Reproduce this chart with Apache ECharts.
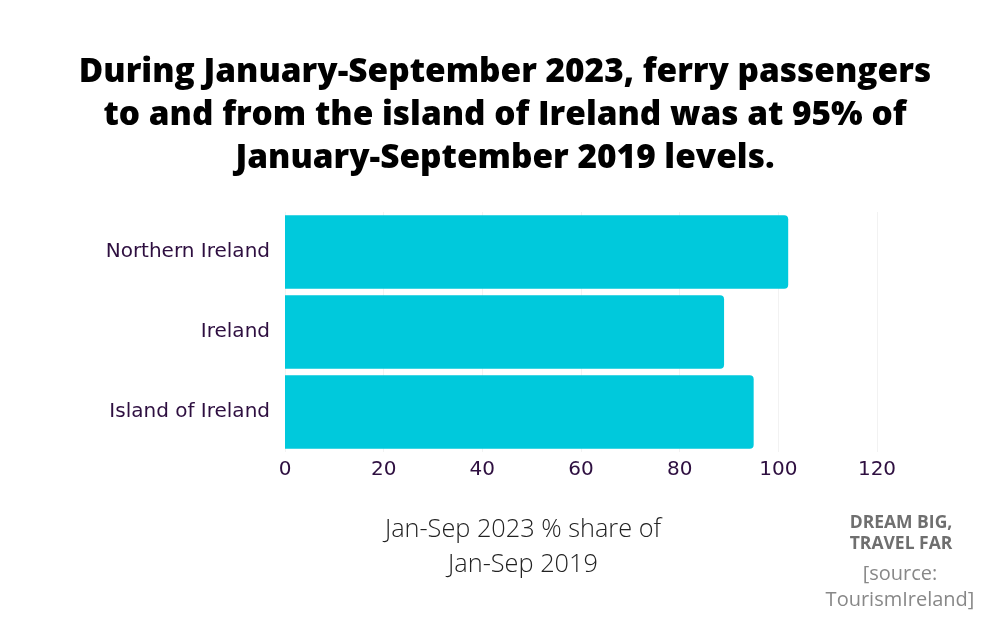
<!DOCTYPE html>
<html><head><meta charset="utf-8">
<script src="https://cdn.jsdelivr.net/npm/echarts@6/dist/echarts.min.js"></script>
<style>html,body{margin:0;padding:0;background:#fff}#c{width:1000px;height:625px}</style>
</head><body><div id="c"></div>
<script>
const categories = ["Northern Ireland", "Ireland", "Island of Ireland"];
const values = [102, 89, 95];
const xTicks = [0, 20, 40, 60, 80, 100, 120];
const titleText = "During January-September 2023, ferry passengers\nto and from the island of Ireland was at 95% of\nJanuary-September 2019 levels.";
const axisTitle = "Jan-Sep 2023 % share of\nJan-Sep 2019";
const brand = "DREAM BIG,\nTRAVEL FAR";
const source = "[source:\nTourismIreland]";

const chart = echarts.init(document.getElementById('c'), null, {renderer: 'canvas'});
chart.setOption({
  backgroundColor: '#fff',
  title: [
    {text: titleText, left: 500, top: 46, textAlign: 'center',
     textStyle: {fontFamily: 'Open Sans', fontWeight: 800, fontSize: 33.4, lineHeight: 43, color: '#000'}},
    {text: axisTitle, left: 518, top: 507, textAlign: 'center',
     textStyle: {fontFamily: 'Open Sans', fontWeight: 300, fontSize: 25.3, lineHeight: 35, color: '#222'}},
    {text: brand, left: 896, top: 507, textAlign: 'center',
     textStyle: {fontFamily: 'Open Sans', fontWeight: 700, fontSize: 17.5, lineHeight: 21.5, color: '#6f6f6f'}},
    {text: source, left: 895, top: 556, textAlign: 'center',
     textStyle: {fontFamily: 'Open Sans', fontWeight: 400, fontSize: 20, lineHeight: 26, color: '#888'}}
  ],
  grid: {left: 285, right: 123, top: 212, bottom: 173, containLabel: false},
  xAxis: {
    type: 'value', min: 0, max: 120, interval: 20,
    axisLine: {show: false}, axisTick: {show: false},
    splitLine: {show: true, lineStyle: {color: '#f2f2f2', width: 1}},
    axisLabel: {color: '#2e0f40', fontFamily: 'DejaVu Sans', fontSize: 20, margin: 8,
      formatter: v => xTicks.includes(v) ? String(v) : ''}
  },
  yAxis: {
    type: 'category', data: categories, inverse: true,
    axisLine: {show: false}, axisTick: {show: false},
    axisLabel: {color: '#2e0f40', fontFamily: 'DejaVu Sans', fontSize: 20, margin: 15, padding: [6, 0, 0, 0]}
  },
  series: [{
    type: 'bar', data: values, barCategoryGap: '8.4%',
    itemStyle: {color: '#00c9dc', borderRadius: [0, 4, 4, 0]},
    silent: true
  }],
  animation: false
});
</script></body></html>
